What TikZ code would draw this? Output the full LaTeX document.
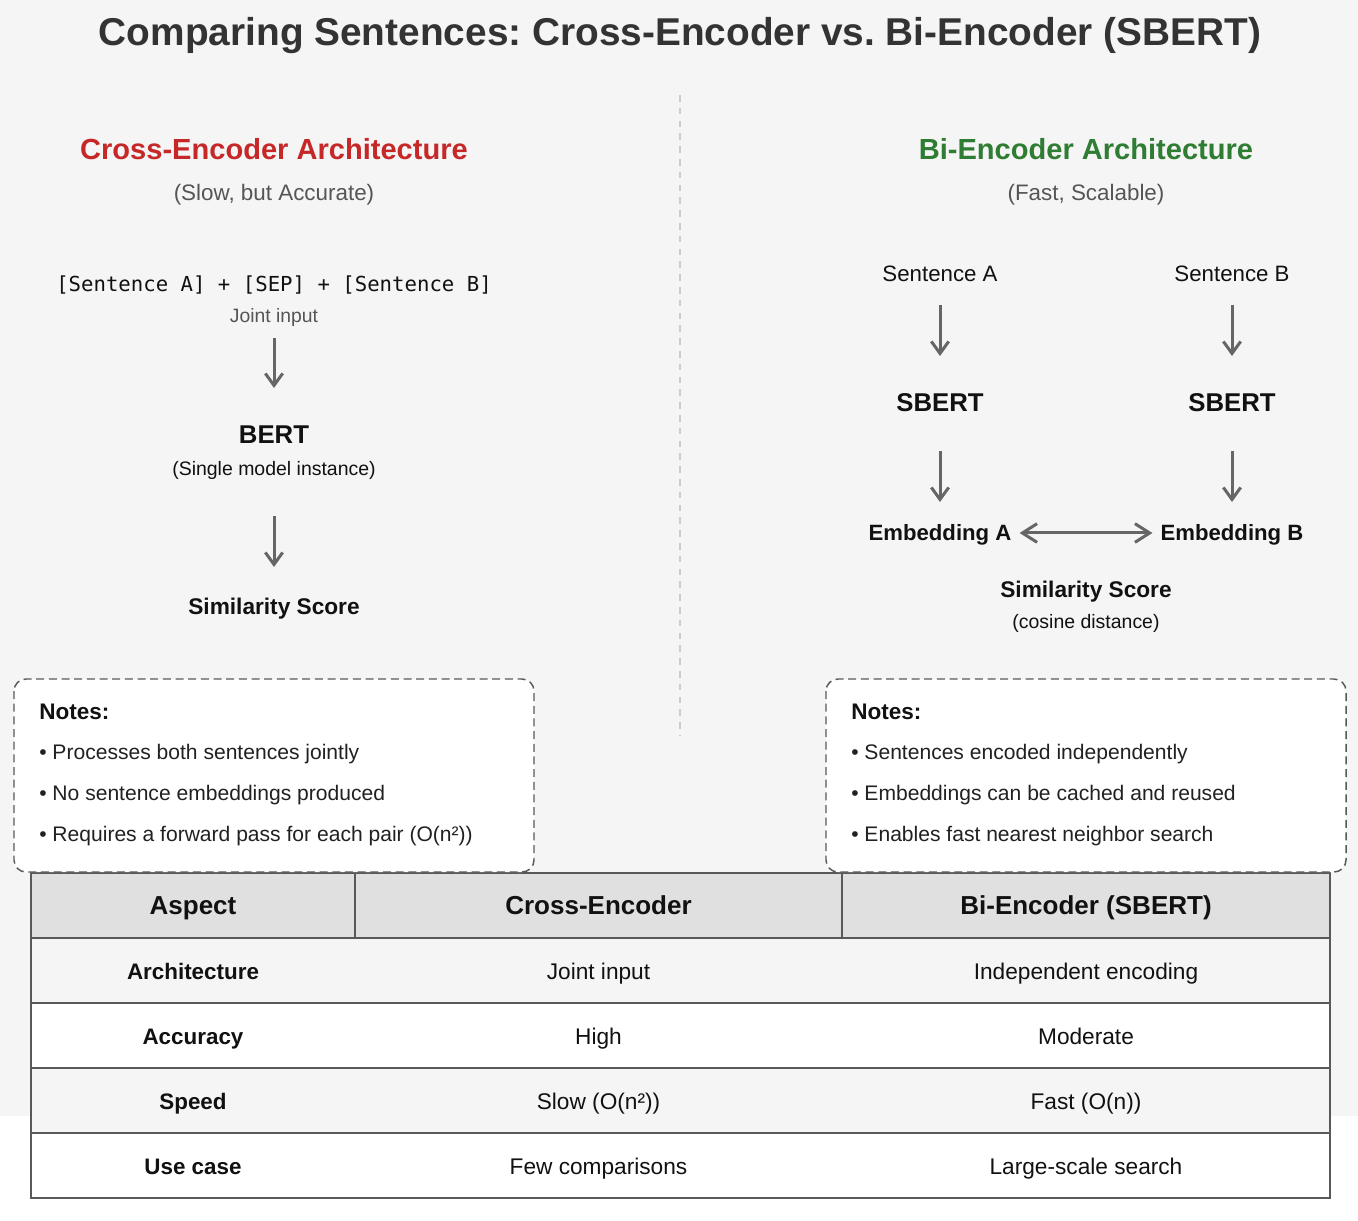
\documentclass[tikz,border=0pt]{standalone}
\usepackage{fontspec}
\setmainfont{Liberation Sans}
\setmonofont{DejaVu Sans Mono}
\usetikzlibrary{arrows.meta}
\frenchspacing
\definecolor{bgc}{HTML}{F5F5F5}
\definecolor{hdrc}{HTML}{E0E0E0}
\definecolor{rowc}{HTML}{F5F5F5}
\definecolor{linec}{HTML}{595959}
\definecolor{arrc}{HTML}{666666}
\definecolor{divc}{HTML}{CCCCCC}
\definecolor{titlec}{HTML}{333333}
\definecolor{subc}{HTML}{555555}
\definecolor{inkc}{HTML}{111111}
\definecolor{redc}{HTML}{C62828}
\definecolor{greenc}{HTML}{2E7D32}
\newcommand{\myfs}[1]{\fontsize{#1pt}{#1pt}\selectfont}
\tikzset{
  txt/.style={inner sep=0pt, anchor=base, text=inkc},
  varr/.style={draw=arrc, line width=2.25pt, -{Straight Barb[length=9pt,width=13pt]}},
  darr/.style={draw=arrc, line width=2.25pt, {Straight Barb[length=11pt,width=14pt]}-{Straight Barb[length=11pt,width=14pt]}},
  divider/.style={draw=divc, line width=2pt, dash pattern=on 5pt off 4.6pt},
  notebox/.style={draw=linec, fill=white, line width=1.1pt, dash pattern=on 6pt off 3.5pt, rounded corners=9pt},
  tline/.style={draw=linec, line width=1.5pt},
  hdrtxt/.style={txt, font=\myfs{19.5}\bfseries},
  celltxt/.style={txt, font=\myfs{17}},
  cellbold/.style={txt, font=\myfs{16.8}\bfseries},
  notetitle/.style={txt, anchor=base west, font=\myfs{16.9}\bfseries},
  notetxt/.style={txt, anchor=base west, font=\myfs{15.8}, text=black!87},
}
\begin{document}
\begin{tikzpicture}[x=0.75pt,y=-0.75pt]
\useasboundingbox (0,0) rectangle (1358,1220);
\fill[white] (0,0) rectangle (1358,1220);
\fill[bgc] (0,0) rectangle (1358,1116);

% title
\node[txt, font=\myfs{29.1}\bfseries, text=titlec] (title) at (680,46)
  {Comparing Sentences: Cross-Encoder vs. Bi-Encoder (SBERT)};

% divider
\draw[divider] (680,95) -- (680,736);

% ---------- Cross-Encoder ----------
\node[txt, font=\myfs{21.8}\bfseries, text=redc] (ctitle) at (274,159) {Cross-Encoder Architecture};
\node[txt, font=\myfs{16.8}, text=subc] (csub) at (274,200) {(Slow, but Accurate)};
\node[txt, font=\ttfamily\myfs{15.5}] (cinput) at (274,291) {[Sentence A] + [SEP] + [Sentence B]};
\node[txt, font=\myfs{14.5}, text=subc] (cjoint) at (274,322) {Joint input};
\node[txt, font=\myfs{19.3}\bfseries] (cbert) at (274,443) {BERT};
\node[txt, font=\myfs{14.6}] (csingle) at (274,475) {(Single model instance)};
\node[txt, font=\myfs{17}\bfseries] (cscore) at (274,614) {Similarity Score};

\draw[varr, shorten <=12pt, shorten >=41.25pt] (cjoint.base) -- (cbert.base);
\draw[varr, shorten <=30.75pt, shorten >=35.25pt] (csingle.base) -- (cscore.base);

% ---------- Bi-Encoder ----------
\node[txt, font=\myfs{21.8}\bfseries, text=greenc] (btitle) at (1086,159) {Bi-Encoder Architecture};
\node[txt, font=\myfs{16.8}, text=subc] (bsub) at (1086,200) {(Fast, Scalable)};
\node[txt, font=\myfs{16.7}] (sentA) at (940,281) {Sentence A};
\node[txt, font=\myfs{16.7}] (sentB) at (1232,281) {Sentence B};
\node[txt, font=\myfs{19.3}\bfseries] (sbertA) at (940,411) {SBERT};
\node[txt, font=\myfs{19.3}\bfseries] (sbertB) at (1232,411) {SBERT};
\node[txt, font=\myfs{16.6}\bfseries] (embA) at (940,540) {Embedding A};
\node[txt, font=\myfs{16.6}\bfseries] (embB) at (1232,540) {Embedding B};
\node[txt, font=\myfs{17}\bfseries] (bscore) at (1086,597) {Similarity Score};
\node[txt, font=\myfs{14.6}] (bcos) at (1086,628) {(cosine distance)};

\draw[varr, shorten <=18pt, shorten >=41.25pt] (sentA.base) -- (sbertA.base);
\draw[varr, shorten <=18pt, shorten >=41.25pt] (sentB.base) -- (sbertB.base);
\draw[varr, shorten <=30pt, shorten >=28.5pt] (sbertA.base) -- (embA.base);
\draw[varr, shorten <=30pt, shorten >=28.5pt] (sbertB.base) -- (embB.base);
\draw[darr, shorten <=6pt, shorten >=6pt] ([yshift=1pt]embA.east) -- ([yshift=1pt]embB.west);

% ---------- table ----------
\fill[hdrc] (31,873) rectangle (1330,938);
\fill[rowc] (31,938) rectangle (1330,1003);
\fill[white] (31,1003) rectangle (1330,1068);
\fill[rowc] (31,1068) rectangle (1330,1133);
\fill[white] (31,1133) rectangle (1330,1198);
\draw[tline] (31,938) -- (1330,938);
\draw[tline] (31,1003) -- (1330,1003);
\draw[tline] (31,1068) -- (1330,1068);
\draw[tline] (31,1133) -- (1330,1133);
\draw[tline] (355,873) -- (355,938);
\draw[tline] (842,873) -- (842,938);
\draw[tline] (31,873) rectangle (1330,1198);

\node[hdrtxt] (h1) at (193,914) {Aspect};
\node[hdrtxt] (h2) at (598.5,914) {Cross-Encoder};
\node[hdrtxt] (h3) at (1086,914) {Bi-Encoder (SBERT)};

\node[cellbold] (r1a) at (193,979) {Architecture};
\node[celltxt] (r1b) at (598.5,979) {Joint input};
\node[celltxt] (r1c) at (1086,979) {Independent encoding};

\node[cellbold] (r2a) at (193,1044) {Accuracy};
\node[celltxt] (r2b) at (598.5,1044) {High};
\node[celltxt] (r2c) at (1086,1044) {Moderate};

\node[cellbold] (r3a) at (193,1109) {Speed};
\node[celltxt] (r3b) at (598.5,1109) {Slow (O(n²))};
\node[celltxt] (r3c) at (1086,1109) {Fast (O(n))};

\node[cellbold] (r4a) at (193,1174) {Use case};
\node[celltxt] (r4b) at (598.5,1174) {Few comparisons};
\node[celltxt] (r4c) at (1086,1174) {Large-scale search};

% ---------- notes ----------
\draw[notebox] (14,679) rectangle (534,872);
\node[notetitle] (ln0) at (39,719) {Notes:};
\node[notetxt] (ln1) at (39,759) {• Processes both sentences jointly};
\node[notetxt] (ln2) at (39,800) {• No sentence embeddings produced};
\node[notetxt] (ln3) at (39,841) {• Requires a forward pass for each pair (O(n²))};

\draw[notebox] (826,679) rectangle (1346,872);
\node[notetitle] (rn0) at (851,719) {Notes:};
\node[notetxt] (rn1) at (851,759) {• Sentences encoded independently};
\node[notetxt] (rn2) at (851,800) {• Embeddings can be cached and reused};
\node[notetxt] (rn3) at (851,841) {• Enables fast nearest neighbor search};
\end{tikzpicture}
\end{document}
